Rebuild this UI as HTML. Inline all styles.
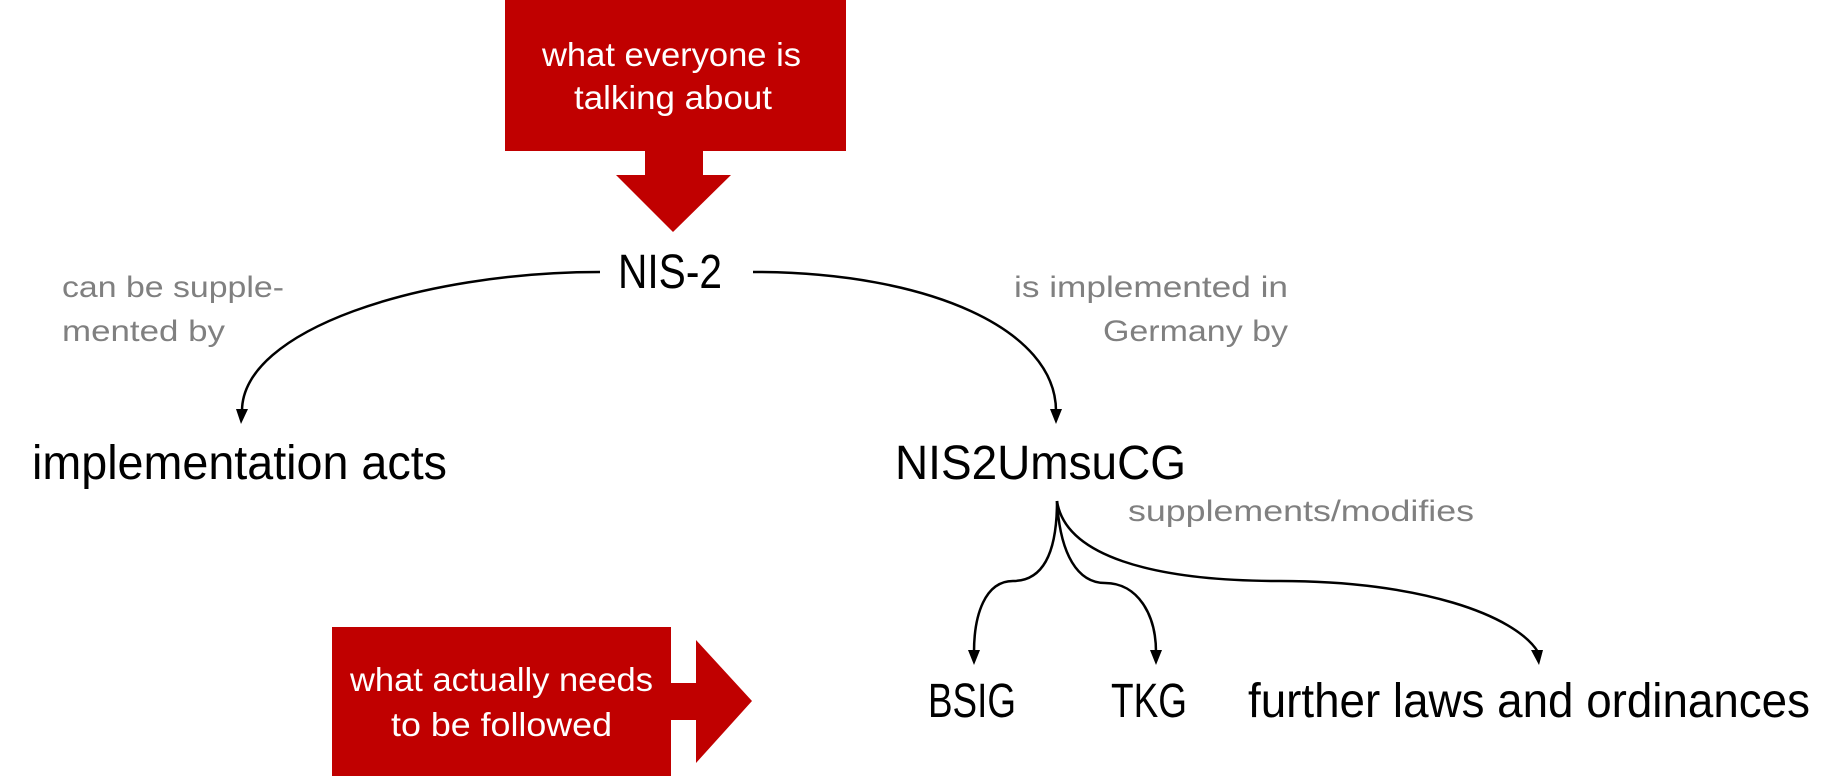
<!DOCTYPE html>
<html><head><meta charset="utf-8"><style>
html,body{margin:0;padding:0;background:#fff;}
svg{display:block;}
text{font-family:"Liberation Sans",sans-serif;}
</style></head><body>
<svg width="1844" height="776" viewBox="0 0 1844 776" xmlns="http://www.w3.org/2000/svg">
<!-- top red arrow -->
<rect x="505" y="0" width="341" height="151" fill="#C00000"/>
<rect x="645" y="150" width="58" height="26" fill="#C00000"/>
<polygon points="616,175 731,175 673,232" fill="#C00000"/>
<text x="542" y="66" font-size="33" fill="#fff" textLength="259" lengthAdjust="spacingAndGlyphs">what everyone is</text>
<text x="574" y="109" font-size="33" fill="#fff" textLength="198" lengthAdjust="spacingAndGlyphs">talking about</text>

<!-- bottom red arrow -->
<rect x="332" y="627" width="339" height="149" fill="#C00000"/>
<rect x="670" y="683" width="27" height="37" fill="#C00000"/>
<polygon points="696,640 752,701 696,763" fill="#C00000"/>
<text x="350" y="691" font-size="33" fill="#fff" textLength="303" lengthAdjust="spacingAndGlyphs">what actually needs</text>
<text x="391" y="736" font-size="33" fill="#fff" textLength="221" lengthAdjust="spacingAndGlyphs">to be followed</text>

<!-- main labels -->
<text x="618" y="288" font-size="48" fill="#000" textLength="104" lengthAdjust="spacingAndGlyphs">NIS-2</text>
<text x="32" y="479" font-size="48" fill="#000" textLength="415" lengthAdjust="spacingAndGlyphs">implementation acts</text>
<text x="895" y="479" font-size="48" fill="#000" textLength="291" lengthAdjust="spacingAndGlyphs">NIS2UmsuCG</text>
<text x="928" y="717" font-size="48" fill="#000" textLength="88" lengthAdjust="spacingAndGlyphs">BSIG</text>
<text x="1111" y="717" font-size="48" fill="#000" textLength="76" lengthAdjust="spacingAndGlyphs">TKG</text>
<text x="1248" y="717" font-size="48" fill="#000" textLength="562" lengthAdjust="spacingAndGlyphs">further laws and ordinances</text>

<!-- gray labels -->
<text x="62" y="297" font-size="30" fill="#808080" textLength="222" lengthAdjust="spacingAndGlyphs">can be supple-</text>
<text x="62" y="341" font-size="30" fill="#808080" textLength="163" lengthAdjust="spacingAndGlyphs">mented by</text>
<text x="1014" y="297" font-size="30" fill="#808080" textLength="274" lengthAdjust="spacingAndGlyphs">is implemented in</text>
<text x="1103" y="341" font-size="30" fill="#808080" textLength="185" lengthAdjust="spacingAndGlyphs">Germany by</text>
<text x="1128" y="521" font-size="30" fill="#808080" textLength="346" lengthAdjust="spacingAndGlyphs">supplements/modifies</text>

<!-- connectors -->
<g fill="none" stroke="#000" stroke-width="2.5">
<path d="M600,272 C420,272 242,330 242,411"/>
<path d="M753,272 C930,272 1056,330 1056,411"/>
<path d="M1057,501 C1057,555 1042,581 1013,581 C985,581 974,615 974,652"/>
<path d="M1057,501 C1060,555 1078,583 1105,583 C1138,583 1156,615 1156,652"/>
<path d="M1057,501 C1065,555 1150,581 1280,581 C1420,581 1515,615 1538,652"/>
</g>
<g fill="#000">
<polygon points="236,409 248,409 241,424"/>
<polygon points="1050,409 1062,409 1056,424"/>
<polygon points="968,650 980,650 974,665"/>
<polygon points="1150,650 1162,650 1156,665"/>
<polygon points="1531,650 1543,650 1539,665"/>
</g>
</svg>
</body></html>
